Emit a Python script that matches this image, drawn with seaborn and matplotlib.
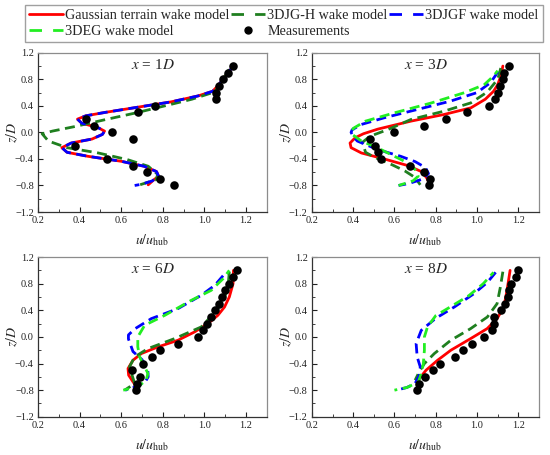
import matplotlib
matplotlib.use("Agg")
import matplotlib.pyplot as plt
import seaborn as sns
from matplotlib.ticker import MultipleLocator
from matplotlib.lines import Line2D

# ---- data ----
titles = ["$x$ = 1$D$", "$x$ = 3$D$", "$x$ = 6$D$", "$x$ = 8$D$"]

# measurements
meas_z_1 = [1.0, 0.9, 0.8, 0.7, 0.6, 0.5, 0.4, 0.3, 0.2, 0.1, 0.0, -0.1, -0.2, -0.4, -0.5, -0.6, -0.7, -0.8]
meas_u_1 = [1.138, 1.113, 1.089, 1.069, 1.057, 1.054, 0.761, 0.681, 0.432, 0.468, 0.556, 0.655, 0.376, 0.533, 0.657, 0.722, 0.788, 0.852]
meas_z = [1.0, 0.9, 0.8, 0.7, 0.6, 0.5, 0.4, 0.3, 0.2, 0.1, 0.0, -0.1, -0.2, -0.3, -0.4, -0.5, -0.6, -0.7, -0.8]
meas_u_3 = [1.154, 1.129, 1.126, 1.113, 1.10, 1.086, 1.06, 0.953, 0.849, 0.745, 0.60, 0.484, 0.508, 0.52, 0.533, 0.674, 0.742, 0.774, 0.769]
meas_u_6 = [1.157, 1.138, 1.118, 1.10, 1.086, 1.07, 1.05, 1.033, 1.014, 0.993, 0.969, 0.873, 0.787, 0.746, 0.706, 0.654, 0.689, 0.678, 0.67]
meas_u_8 = [1.198, 1.19, 1.165, 1.157, 1.149, 1.133, 1.117, 1.081, 1.081, 1.073, 1.033, 0.974, 0.934, 0.894, 0.82, 0.787, 0.75, 0.721, 0.708]

# Gaussian terrain wake model
gauss_u_1 = [1.14, 1.10, 1.07, 1.04, 0.97, 0.84, 0.68, 0.52, 0.43, 0.39, 0.41, 0.49, 0.52, 0.51, 0.46, 0.36, 0.315, 0.34, 0.44, 0.60, 0.71, 0.77, 0.78, 0.755, 0.73]
gauss_z_1 = [1.0, 0.85, 0.72, 0.62, 0.55, 0.46, 0.38, 0.30, 0.25, 0.20, 0.14, 0.07, 0.02, -0.03, -0.10, -0.16, -0.23, -0.30, -0.36, -0.435, -0.51, -0.59, -0.66, -0.72, -0.79]
gauss_u_3 = [1.125, 1.115, 1.10, 1.08, 1.04, 0.97, 0.84, 0.68, 0.52, 0.45, 0.41, 0.385, 0.39, 0.44, 0.55, 0.665, 0.73, 0.755, 0.765]
gauss_z_3 = [1.0, 0.85, 0.72, 0.62, 0.50, 0.37, 0.27, 0.17, 0.05, -0.02, -0.08, -0.16, -0.23, -0.31, -0.40, -0.50, -0.59, -0.68, -0.74]
gauss_u_6 = [1.14, 1.138, 1.12, 1.097, 1.065, 1.017, 0.953, 0.873, 0.777, 0.697, 0.657, 0.633, 0.636, 0.657, 0.67]
gauss_z_6 = [1.0, 0.8, 0.6, 0.45, 0.325, 0.2, 0.075, -0.05, -0.15, -0.25, -0.35, -0.475, -0.575, -0.675, -0.73]
gauss_u_8 = [1.16, 1.145, 1.13, 1.097, 1.049, 0.969, 0.873, 0.809, 0.753, 0.721, 0.71]
gauss_z_8 = [1.0, 0.7, 0.45, 0.275, 0.125, -0.025, -0.2, -0.35, -0.5, -0.625, -0.72]

# 3DJG-H wake model
jgh_u_1 = [1.12, 1.08, 1.05, 0.94, 0.81, 0.665, 0.52, 0.38, 0.27, 0.22, 0.25, 0.34, 0.49, 0.63, 0.73, 0.775, 0.77, 0.72, 0.69]
jgh_z_1 = [0.95, 0.75, 0.61, 0.50, 0.40, 0.29, 0.19, 0.09, 0.02, -0.02, -0.13, -0.23, -0.31, -0.41, -0.51, -0.63, -0.71, -0.76, -0.79]
jgh_u_3 = [1.115, 1.10, 1.05, 0.97, 0.84, 0.68, 0.57, 0.48, 0.445, 0.46, 0.50, 0.59, 0.65, 0.70, 0.725]
jgh_z_3 = [0.97, 0.80, 0.61, 0.445, 0.32, 0.195, 0.045, -0.06, -0.15, -0.30, -0.37, -0.49, -0.58, -0.68, -0.79]
jgh_u_6 = [1.12, 1.115, 1.10, 1.07, 1.03, 0.985, 0.857, 0.729, 0.665, 0.64, 0.655, 0.665, 0.617]
jgh_z_6 = [0.98, 0.8, 0.62, 0.45, 0.30, 0.15, -0.025, -0.175, -0.30, -0.45, -0.60, -0.70, -0.80]
jgh_u_8 = [1.125, 1.113, 1.097, 1.05, 0.969, 0.873, 0.793, 0.745, 0.72, 0.70]
jgh_z_8 = [0.98, 0.75, 0.5, 0.3, 0.125, -0.05, -0.25, -0.4, -0.525, -0.65]

# 3DJGF wake model
jgf_u_1 = [1.14, 1.10, 1.07, 1.04, 0.97, 0.84, 0.68, 0.52, 0.43, 0.39, 0.41, 0.49, 0.52, 0.51, 0.46, 0.36, 0.315, 0.34, 0.44, 0.60, 0.71, 0.77, 0.78, 0.75, 0.70, 0.665]
jgf_z_1 = [1.0, 0.85, 0.72, 0.62, 0.55, 0.46, 0.38, 0.30, 0.25, 0.20, 0.14, 0.07, 0.02, -0.03, -0.10, -0.16, -0.23, -0.30, -0.36, -0.435, -0.51, -0.59, -0.66, -0.73, -0.78, -0.80]
jgf_u_3 = [1.10, 1.09, 1.065, 1.0, 0.87, 0.71, 0.55, 0.44, 0.395, 0.39, 0.40, 0.42, 0.52, 0.63, 0.70, 0.75, 0.765, 0.74, 0.67, 0.62]
jgf_z_3 = [0.92, 0.86, 0.75, 0.60, 0.47, 0.345, 0.22, 0.12, 0.04, 0.0, -0.06, -0.13, -0.26, -0.36, -0.44, -0.53, -0.62, -0.70, -0.77, -0.80]
jgf_u_6 = [1.09, 1.05, 0.985, 0.873, 0.745, 0.665, 0.635, 0.635, 0.657, 0.70, 0.728, 0.73, 0.715, 0.66, 0.62]
jgf_z_6 = [0.92, 0.775, 0.625, 0.425, 0.275, 0.12, 0.03, -0.03, -0.22, -0.34, -0.48, -0.60, -0.68, -0.76, -0.80]
jgf_u_8 = [1.09, 1.05, 0.985, 0.89, 0.80, 0.73, 0.705, 0.71, 0.725, 0.72, 0.70, 0.66, 0.61]
jgf_z_8 = [0.97, 0.82, 0.65, 0.45, 0.28, 0.10, -0.10, -0.30, -0.45, -0.58, -0.70, -0.76, -0.80]

# 3DEG wake model (hidden under the other curves at x = 1D)
deg_u_3 = [1.10, 1.08, 1.035, 0.94, 0.78, 0.60, 0.46, 0.40, 0.395, 0.44, 0.52, 0.60, 0.665, 0.70, 0.715, 0.69, 0.62]
deg_z_3 = [0.93, 0.85, 0.72, 0.60, 0.445, 0.295, 0.17, 0.06, -0.03, -0.13, -0.235, -0.36, -0.46, -0.56, -0.66, -0.73, -0.80]
deg_u_6 = [1.12, 1.09, 1.033, 0.937, 0.81, 0.713, 0.68, 0.68, 0.689, 0.713, 0.729, 0.72, 0.68, 0.61]
deg_z_6 = [1.0, 0.875, 0.70, 0.55, 0.325, 0.175, 0.0, -0.15, -0.30, -0.45, -0.55, -0.65, -0.75, -0.80]
deg_u_8 = [1.08, 1.03, 0.96, 0.87, 0.80, 0.76, 0.745, 0.745, 0.74, 0.73, 0.715, 0.66, 0.60]
deg_z_8 = [0.97, 0.80, 0.62, 0.45, 0.32, 0.15, 0.0, -0.2, -0.4, -0.55, -0.68, -0.76, -0.80]

panels = [
    (meas_u_1, meas_z_1, gauss_u_1, gauss_z_1, jgh_u_1, jgh_z_1, jgf_u_1, jgf_z_1, None, None),
    (meas_u_3, meas_z, gauss_u_3, gauss_z_3, jgh_u_3, jgh_z_3, jgf_u_3, jgf_z_3, deg_u_3, deg_z_3),
    (meas_u_6, meas_z, gauss_u_6, gauss_z_6, jgh_u_6, jgh_z_6, jgf_u_6, jgf_z_6, deg_u_6, deg_z_6),
    (meas_u_8, meas_z, gauss_u_8, gauss_z_8, jgh_u_8, jgh_z_8, jgf_u_8, jgf_z_8, deg_u_8, deg_z_8),
]

sns.set_style("ticks")
plt.rcParams["font.family"] = ["Liberation Serif", "DejaVu Serif"]
plt.rcParams["mathtext.fontset"] = "stix"

c_red = "#ff0000"
c_dg = "#1f7f1f"
c_blue = "#0000ff"
c_lg = "#22ee22"
lw = 2.0
dash_a = (0, (3.6, 2.0))
dash_b = (2.0, (3.6, 2.0))
dash_leg = (0, (4.5, 4.0))

fig = plt.figure(figsize=(5.5, 4.55), dpi=100)
rects = [
    (0.069, 0.534, 0.416, 0.350),
    (0.567, 0.534, 0.413, 0.350),
    (0.069, 0.084, 0.416, 0.351),
    (0.567, 0.084, 0.413, 0.351),
]

for i, (rect, p) in enumerate(zip(rects, panels)):
    mu, mz, gu, gz, hu, hz, fu, fz, du, dz = p
    ax = fig.add_axes(rect)
    sns.lineplot(x=gu, y=gz, sort=False, estimator=None, color=c_red, lw=lw, ax=ax)
    sns.lineplot(x=hu, y=hz, sort=False, estimator=None, color=c_dg, lw=lw, ls=dash_a, ax=ax)
    sns.lineplot(x=fu, y=fz, sort=False, estimator=None, color=c_blue, lw=lw, ls=dash_a, ax=ax)
    if du is not None:
        sns.lineplot(x=du, y=dz, sort=False, estimator=None, color=c_lg, lw=lw, ls=dash_b, ax=ax)
    sns.scatterplot(x=mu, y=mz, color="black", s=38, edgecolor="black", linewidth=0, zorder=5, ax=ax)

    ax.set_xlim(0.2, 1.3)
    ax.set_ylim(-1.2, 1.2)
    ax.xaxis.set_major_locator(MultipleLocator(0.2))
    ax.xaxis.set_minor_locator(MultipleLocator(0.1))
    ax.yaxis.set_major_locator(MultipleLocator(0.4))
    ax.yaxis.set_minor_locator(MultipleLocator(0.2))
    ax.set_xticks([0.2, 0.4, 0.6, 0.8, 1.0, 1.2])
    ax.tick_params(which="both", direction="in", labelsize=7.5, colors="#222222", pad=3)
    ax.tick_params(which="major", length=3.5, width=0.8)
    ax.tick_params(which="minor", length=2, width=0.6)
    for s in ["top", "right"]:
        ax.spines[s].set_visible(True)
        ax.spines[s].set_color("#8c8c8c")
    for s in ["left", "bottom"]:
        ax.spines[s].set_color("#333333")
    for s in ax.spines.values():
        s.set_linewidth(0.9)
    ax.set_xlabel(r"$u/u_{\rm hub}$", fontsize=10, labelpad=5)
    ax.set_ylabel(r"$z/D$", fontsize=10)
    ax.yaxis.set_label_coords(-0.08, 0.5)
    ax.text(0.5, 0.925, titles[i], transform=ax.transAxes, ha="center", va="center", fontsize=11)

handles = [
    Line2D([], [], color=c_red, lw=lw),
    Line2D([], [], color=c_lg, lw=lw, ls=dash_leg),
    Line2D([], [], color=c_dg, lw=lw, ls=dash_leg),
    Line2D([], [], marker="o", ls="none", color="black", markersize=5),
    Line2D([], [], color=c_blue, lw=lw, ls=dash_leg),
]
labels = ["Gaussian terrain wake model", "3DEG wake model", "3DJG-H wake model",
          "Measurements", "3DJGF wake model"]
leg = fig.legend(handles, labels, ncol=3, loc="upper center", bbox_to_anchor=(0.516, 0.99),
                 frameon=True, fancybox=False, fontsize=10.2, handlelength=2.4,
                 handletextpad=0.15, columnspacing=0.1, labelspacing=0.2,
                 borderpad=0.3, borderaxespad=0)
leg.get_frame().set_edgecolor("#888888")
leg.get_frame().set_linewidth(1.0)

fig.savefig("out.png", dpi=100)
